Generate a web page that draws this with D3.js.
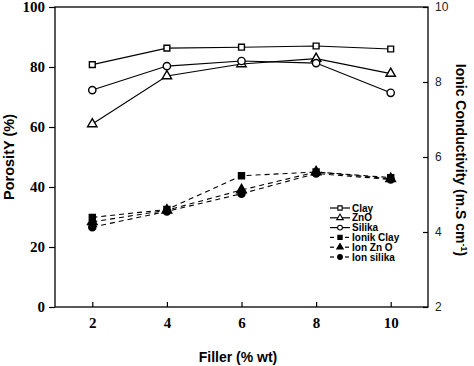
<!DOCTYPE html>
<html><head><meta charset="utf-8">
<script src="https://cdn.jsdelivr.net/npm/d3@7"></script>
<style>body{margin:0;background:#fff}svg{display:block}</style>
</head><body>
<svg id="c" width="474" height="366"></svg>
<script>
const filler = [2, 4, 6, 8, 10];
const clay = [80.8, 86.3, 86.6, 87.0, 86.0];
const zno = [61.0, 77.0, 81.0, 82.8, 77.8];
const silika = [72.3, 80.3, 82.0, 81.3, 71.4];
const ionClay = [4.39, 4.60, 5.50, 5.60, 5.45];
const ionZnO = [4.27, 4.58, 5.12, 5.60, 5.42];
const ionSilika = [4.13, 4.55, 5.02, 5.56, 5.40];
const leftTicks = [0, 20, 40, 60, 80, 100];
const rightTicks = [2, 4, 6, 8, 10];
const xTicks = [2, 4, 6, 8, 10];
const legendLabels = ["Clay", "ZnO", "Silika", "Ionik Clay", "Ion Zn O", "Ion silika"];

const svg = d3.select("#c");
const L = 55, R = 428, T = 7, B = 307;
const x = d3.scaleLinear().domain([1, 11]).range([L, R]);
const yL = d3.scaleLinear().domain([0, 100]).range([B, T]);
const yR = d3.scaleLinear().domain([2, 10]).range([B, T]);

// frame
svg.append("rect").attr("x", L).attr("y", T).attr("width", R - L).attr("height", B - T)
  .attr("fill", "none").attr("stroke", "#000").attr("stroke-width", 1.3);

// left axis
const gl = svg.append("g").attr("transform", `translate(${L},0)`)
  .call(d3.axisLeft(yL).tickValues(leftTicks).tickSize(6).tickPadding(4).tickFormat(d3.format("d")));
gl.select(".domain").remove();
gl.selectAll("line").attr("stroke-width", 1.2);
gl.selectAll("text").attr("font-family", "Liberation Serif, Times New Roman, serif")
  .attr("font-weight", "bold").attr("font-size", 15).attr("fill", "#000");

// bottom axis (inward ticks)
const gb = svg.append("g").attr("transform", `translate(0,${B})`)
  .call(d3.axisBottom(x).tickValues(xTicks).tickSize(-5).tickPadding(10));
gb.select(".domain").remove();
gb.selectAll("line").attr("stroke-width", 1.2);
gb.selectAll("text").attr("font-family", "Liberation Serif, Times New Roman, serif")
  .attr("font-weight", "bold").attr("font-size", 15).attr("fill", "#000");

// right axis (inward ticks)
const gr = svg.append("g").attr("transform", `translate(${R},0)`)
  .call(d3.axisRight(yR).tickValues(rightTicks).tickSize(-5).tickPadding(7));
gr.select(".domain").remove();
gr.selectAll("line").attr("stroke-width", 1.2);
gr.selectAll("text").attr("font-family", "Liberation Sans, Arial, sans-serif")
  .attr("font-size", 12).attr("fill", "#222");

// titles
svg.append("text").attr("transform", `translate(14,${(T + B) / 2}) rotate(-90)`)
  .attr("text-anchor", "middle").attr("font-family", "Liberation Sans, Arial, sans-serif")
  .attr("font-weight", "bold").attr("font-size", 14.5).text("PorositY (%)");
svg.append("text").attr("x", 238).attr("y", 362).attr("text-anchor", "middle")
  .attr("font-family", "Liberation Sans, Arial, sans-serif")
  .attr("font-weight", "bold").attr("font-size", 14).text("Filler (% wt)");
const rt = svg.append("text").attr("transform", `translate(456,${160}) rotate(90)`)
  .attr("text-anchor", "middle").attr("font-family", "Liberation Sans, Arial, sans-serif")
  .attr("font-weight", "bold").attr("font-size", 14);
rt.append("tspan").text("Ionic Conductivity (m.S cm");
rt.append("tspan").attr("dy", -5).attr("font-size", 9).text("-1");
rt.append("tspan").attr("dy", 5).text(")");

const series = [
  {name: legendLabels[0], vals: clay, y: yL, sym: d3.symbolSquare, size: 34, fill: "#fff", dash: null},
  {name: legendLabels[1], vals: zno, y: yL, sym: d3.symbolTriangle, size: 38, fill: "#fff", dash: null},
  {name: legendLabels[2], vals: silika, y: yL, sym: d3.symbolCircle, size: 42, fill: "#fff", dash: null},
  {name: legendLabels[3], vals: ionClay, y: yR, sym: d3.symbolSquare, size: 36, fill: "#000", dash: "5,4"},
  {name: legendLabels[4], vals: ionZnO, y: yR, sym: d3.symbolTriangle, size: 40, fill: "#000", dash: "5,4"},
  {name: legendLabels[5], vals: ionSilika, y: yR, sym: d3.symbolCircle, size: 40, fill: "#000", dash: "5,4"}
];

const line = (ys) => d3.line().x((d, i) => x(filler[i])).y(d => ys(d));
series.forEach(s => {
  svg.append("path").datum(s.vals).attr("d", line(s.y)).attr("fill", "none")
    .attr("stroke", "#000").attr("stroke-width", 1.1)
    .attr("stroke-dasharray", s.dash);
});
series.forEach(s => {
  svg.selectAll(null).data(s.vals).enter().append("path")
    .attr("d", d3.symbol().type(s.sym).size(s.size))
    .attr("transform", (d, i) => `translate(${x(filler[i])},${s.y(d)})`)
    .attr("fill", s.fill).attr("stroke", "#000").attr("stroke-width", 1.4);
});

// legend
const lg = svg.append("g");
series.forEach((s, i) => {
  const yy = 208 + i * 9.8;
  if (s.dash) {
    lg.append("line").attr("x1", 330).attr("x2", 334).attr("y1", yy).attr("y2", yy).attr("stroke", "#000").attr("stroke-width", 1.2);
    lg.append("line").attr("x1", 345).attr("x2", 349).attr("y1", yy).attr("y2", yy).attr("stroke", "#000").attr("stroke-width", 1.2);
  } else {
    lg.append("line").attr("x1", 330).attr("x2", 350).attr("y1", yy).attr("y2", yy).attr("stroke", "#000").attr("stroke-width", 1.2);
  }
  lg.append("path").attr("d", d3.symbol().type(s.sym).size(18))
    .attr("transform", `translate(340,${yy})`)
    .attr("fill", s.fill).attr("stroke", "#000").attr("stroke-width", 1.1);
  lg.append("text").attr("x", 352).attr("y", yy + 3.6)
    .attr("font-family", "Liberation Sans, Arial, sans-serif").attr("font-weight", "bold")
    .attr("font-size", 10).attr("fill", "#000").text(s.name);
});
</script>
</body></html>
